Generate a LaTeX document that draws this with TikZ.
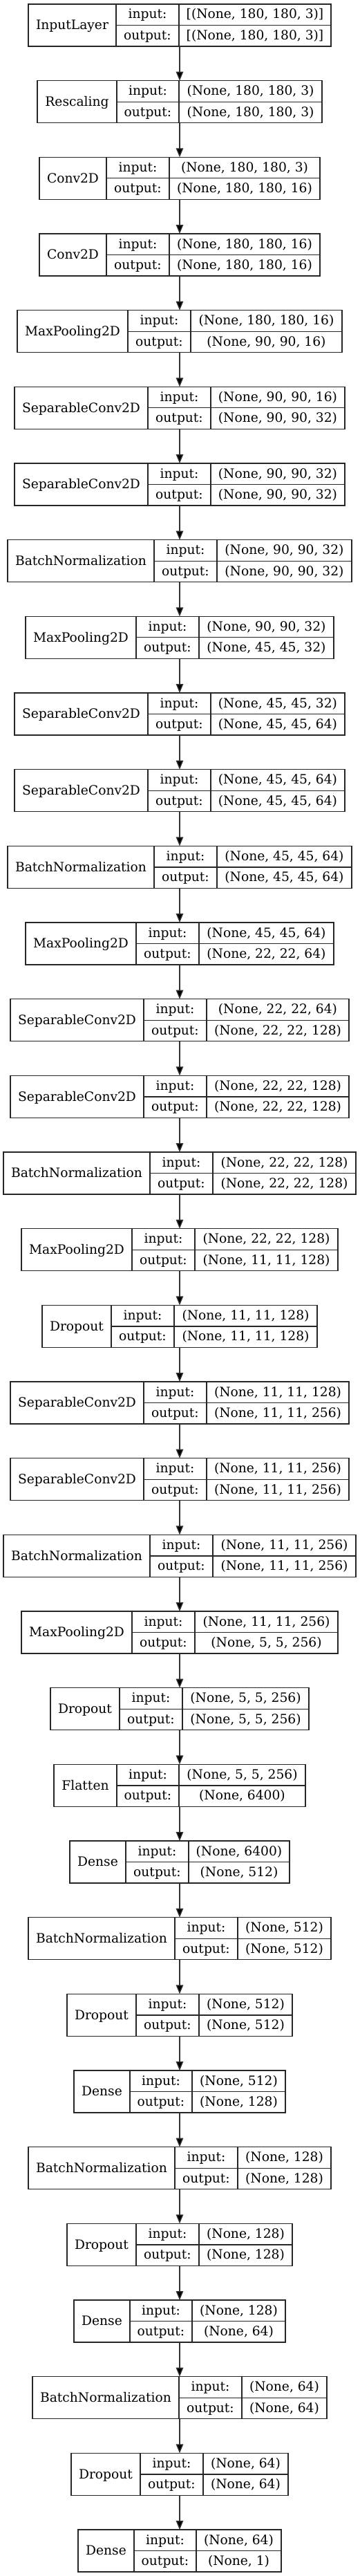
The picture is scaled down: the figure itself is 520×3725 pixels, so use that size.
\documentclass[tikz,border=0pt]{standalone}
\usepackage{fontspec}
\setmainfont{DejaVu Serif}
\usetikzlibrary{arrows.meta}
\newcommand{\lay}[7]{%
  \pgfmathsetmacro{\tp}{6+#1*110.667}%
  \pgfmathsetmacro{\rr}{520-#3}%
  \node[box, minimum width={520-2*#3}] (b#1) at (260,\tp+30.5) {};
  \draw[cell] (#4,\tp) -- (#4,\tp+61);
  \draw[cell] (#5,\tp) -- (#5,\tp+61);
  \draw[cell] (#4,\tp+30.5) -- (\rr,\tp+30.5);
  \node[txt] (n#1) at ({(#3+#4)/2},\tp+36.7) {#2};
  \node[txt] (i#1) at ({(#4+#5)/2},\tp+21) {input:};
  \node[txt] (o#1) at ({(#4+#5)/2},\tp+51.5) {output:};
  \node[txt] (s#1) at ({(#5+\rr)/2},\tp+21) {#6};
  \node[txt] (t#1) at ({(#5+\rr)/2},\tp+51.5) {#7};
}
\begin{document}
\begin{tikzpicture}[x=1pt,y=-1pt,
  box/.style={draw=black!85, line width=1.3pt, rectangle, inner sep=0pt, outer sep=0pt, minimum height=61pt},
  cell/.style={draw=black!85, line width=1.3pt},
  txt/.style={anchor=base, inner sep=0pt, font=\fontsize{18.67}{22}\selectfont},
  arr/.style={draw=black!80, line width=1.3pt, -{Triangle[length=13pt,width=10.5pt,fill=black]}}]
\useasboundingbox (0,0) rectangle (520,3725);
\lay{0}{InputLayer}{41}{168}{259}{[(None, 180, 180, 3)]}{[(None, 180, 180, 3)]}
\lay{1}{Rescaling}{54}{169}{259}{(None, 180, 180, 3)}{(None, 180, 180, 3)}
\lay{2}{Conv2D}{57}{154}{245}{(None, 180, 180, 3)}{(None, 180, 180, 16)}
\lay{3}{Conv2D}{57}{154}{245}{(None, 180, 180, 16)}{(None, 180, 180, 16)}
\lay{4}{MaxPooling2D}{25}{185}{276}{(None, 180, 180, 16)}{(None, 90, 90, 16)}
\lay{5}{SeparableConv2D}{21}{214}{305}{(None, 90, 90, 16)}{(None, 90, 90, 32)}
\lay{6}{SeparableConv2D}{21}{214}{305}{(None, 90, 90, 32)}{(None, 90, 90, 32)}
\lay{7}{BatchNormalization}{11}{223}{314}{(None, 90, 90, 32)}{(None, 90, 90, 32)}
\lay{8}{MaxPooling2D}{37}{197}{288}{(None, 90, 90, 32)}{(None, 45, 45, 32)}
\lay{9}{SeparableConv2D}{21}{214}{305}{(None, 45, 45, 32)}{(None, 45, 45, 64)}
\lay{10}{SeparableConv2D}{21}{214}{305}{(None, 45, 45, 64)}{(None, 45, 45, 64)}
\lay{11}{BatchNormalization}{11}{223}{314}{(None, 45, 45, 64)}{(None, 45, 45, 64)}
\lay{12}{MaxPooling2D}{37}{197}{288}{(None, 45, 45, 64)}{(None, 22, 22, 64)}
\lay{13}{SeparableConv2D}{15}{208}{299}{(None, 22, 22, 64)}{(None, 22, 22, 128)}
\lay{14}{SeparableConv2D}{15}{208}{299}{(None, 22, 22, 128)}{(None, 22, 22, 128)}
\lay{15}{BatchNormalization}{5}{217}{308}{(None, 22, 22, 128)}{(None, 22, 22, 128)}
\lay{16}{MaxPooling2D}{31}{191}{282}{(None, 22, 22, 128)}{(None, 11, 11, 128)}
\lay{17}{Dropout}{61}{161}{252}{(None, 11, 11, 128)}{(None, 11, 11, 128)}
\lay{18}{SeparableConv2D}{15}{208}{299}{(None, 11, 11, 128)}{(None, 11, 11, 256)}
\lay{19}{SeparableConv2D}{15}{208}{299}{(None, 11, 11, 256)}{(None, 11, 11, 256)}
\lay{20}{BatchNormalization}{5}{217}{308}{(None, 11, 11, 256)}{(None, 11, 11, 256)}
\lay{21}{MaxPooling2D}{31}{191}{282}{(None, 11, 11, 256)}{(None, 5, 5, 256)}
\lay{22}{Dropout}{73}{173}{264}{(None, 5, 5, 256)}{(None, 5, 5, 256)}
\lay{23}{Flatten}{78}{169}{259}{(None, 5, 5, 256)}{(None, 6400)}
\lay{24}{Dense}{101}{182}{273}{(None, 6400)}{(None, 512)}
\lay{25}{BatchNormalization}{41}{253}{344}{(None, 512)}{(None, 512)}
\lay{26}{Dropout}{97}{197}{288}{(None, 512)}{(None, 512)}
\lay{27}{Dense}{107}{188}{278}{(None, 512)}{(None, 128)}
\lay{28}{BatchNormalization}{41}{253}{344}{(None, 128)}{(None, 128)}
\lay{29}{Dropout}{97}{197}{288}{(None, 128)}{(None, 128)}
\lay{30}{Dense}{107}{188}{278}{(None, 128)}{(None, 64)}
\lay{31}{BatchNormalization}{47}{259}{350}{(None, 64)}{(None, 64)}
\lay{32}{Dropout}{103}{203}{294}{(None, 64)}{(None, 64)}
\lay{33}{Dense}{113}{194}{284}{(None, 64)}{(None, 1)}
\foreach \i [evaluate=\i as \j using int(\i+1)] in {0,...,32}
  \draw[arr] (b\i.south) -- (b\j.north);
\end{tikzpicture}
\end{document}
